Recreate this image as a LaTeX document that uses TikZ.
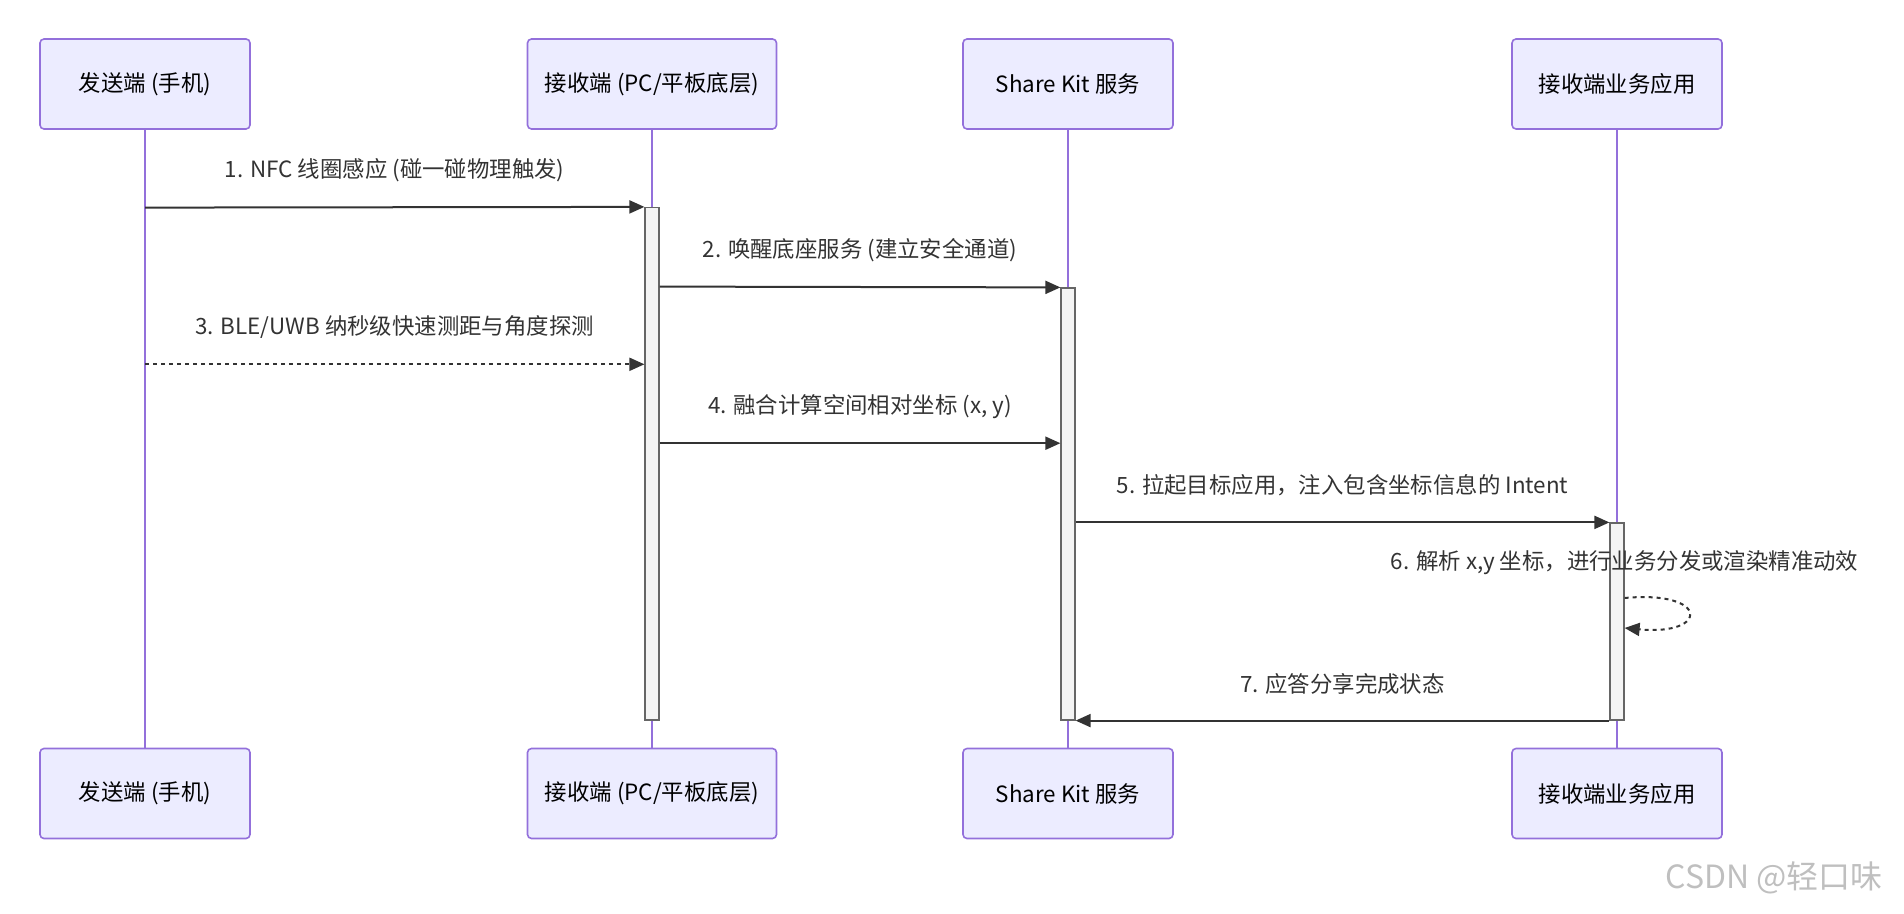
\documentclass[tikz,border=0pt]{standalone}
\usepackage{fontspec}
\setmainfont{Noto Sans CJK SC}
\usepackage{xcolor,tikz}
\usetikzlibrary{arrows.meta,positioning,calc}
\definecolor{actorline}{HTML}{9370DB}
\definecolor{actorfill}{HTML}{ECECFF}
\definecolor{actfill}{HTML}{F4F4F4}
\definecolor{actdraw}{HTML}{666666}
\definecolor{msgink}{HTML}{333333}
\tikzset{actorbox/.style={draw=actorline,fill=actorfill,rounded corners=2pt,line width=0.8pt,minimum width=105pt,minimum height=45pt,font=\fontsize{11.2}{13}\selectfont},lifeline/.style={draw=actorline,line width=0.9pt},actbar/.style={draw=actdraw,fill=actfill,line width=0.6pt,minimum width=7pt,inner sep=0pt},msgarr/.style={-{Triangle[length=7.5pt,width=6.5pt]},line width=1pt,draw=msgink},msglabel/.style={font=\fontsize{11.2}{13}\selectfont,text=msgink,yshift=18.5pt}}

\begin{document}
\begin{tikzpicture}[x=0.5pt,y=-0.5pt]
\useasboundingbox (0,0) rectangle (1904,914);
% actors, top and bottom
\node[actorbox] (top1) at (145,84) {发送端 (手机)};
\node[actorbox,minimum width=124.5pt] (top2) at (652,84) {接收端 (PC/平板底层)};
\node[actorbox] (top3) at (1068,84) {Share Kit 服务};
\node[actorbox] (top4) at (1617,84) {接收端业务应用};
\node[actorbox] (bot1) at (145,793.5) {发送端 (手机)};
\node[actorbox,minimum width=124.5pt] (bot2) at (652,793.5) {接收端 (PC/平板底层)};
\node[actorbox] (bot3) at (1068,793.5) {Share Kit 服务};
\node[actorbox] (bot4) at (1617,793.5) {接收端业务应用};
\draw[lifeline] (top1)--(bot1);
\draw[lifeline] (top2)--(bot2);
\draw[lifeline] (top3)--(bot3);
\draw[lifeline] (top4)--(bot4);
% activations
\node[actbar,minimum height=256.25pt] (act2) at (652,463.75) {};
\node[actbar,minimum height=216pt] (act3) at (1068,504) {};
\node[actbar,minimum height=98.5pt] (act4) at (1617,621.5) {};
% message rows
\coordinate (r1) at (0,207.6);
\coordinate (r2) at (0,286.6);
\coordinate (r3) at (0,364.3);
\coordinate (r4) at (0,443.2);
\coordinate (r6) at (0,598);
\coordinate (r6b) at (0,628);
\draw[msgarr] (top1|-r1)--node[msglabel]{1. NFC 线圈感应 (碰一碰物理触发)}(act2.north west);
\draw[msgarr] (act2.east|-r2)--node[msglabel]{2. 唤醒底座服务 (建立安全通道)}(act3.north west);
\draw[msgarr,dash pattern=on 2pt off 2pt] (top1|-r3)--node[msglabel]{3. BLE/UWB 纳秒级快速测距与角度探测}(act2.west|-r3);
\draw[msgarr] (act2.east|-r4)--node[msglabel]{4. 融合计算空间相对坐标 (x, y)}(act3.west|-r4);
\draw[msgarr] (act3.east|-act4.north)--node[msglabel]{5. 拉起目标应用，注入包含坐标信息的 Intent}(act4.north west);
\node[msglabel,yshift=-1pt] (m6) at (act4.east|-r6) {6. 解析 x,y 坐标，进行业务分发或渲染精准动效};
\draw[msgarr,dash pattern=on 2pt off 2pt] (act4.east|-r6) .. controls +(85,-8) and +(85,8) .. (act4.east|-r6b);
\draw[msgarr] (act4.south west)--node[msglabel]{7. 应答分享完成状态}(act3.south east);
% watermark
\node[font=\fontsize{16}{18}\selectfont,text=black!25,anchor=east] (mark) at (1890,878) {CSDN @轻口味};
\end{tikzpicture}
\end{document}
